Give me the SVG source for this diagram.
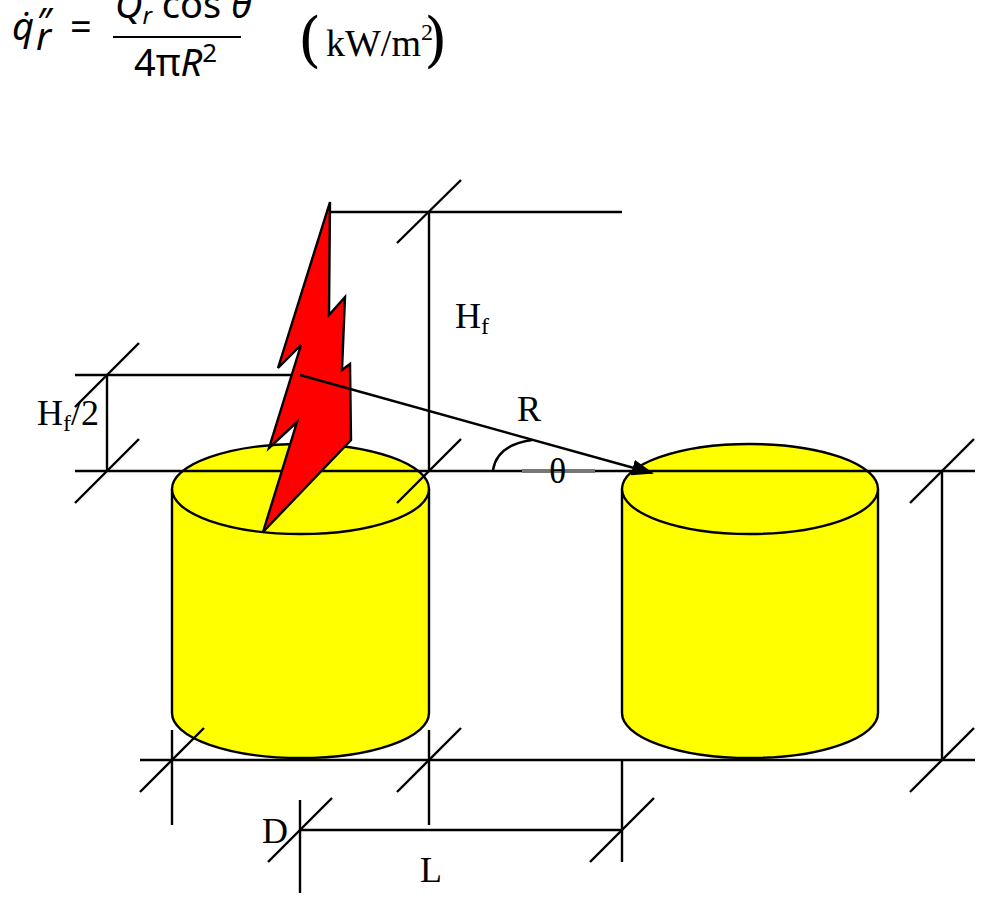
<svg xmlns="http://www.w3.org/2000/svg" width="1000" height="899" viewBox="0 0 1000 899">
<style>
.l{stroke:#000;stroke-width:2.4;fill:none}
.t{font-family:"Liberation Serif",serif;font-size:36px;fill:#000}
.m{font-family:"Noto Sans","DejaVu Sans",sans-serif;font-size:38px;fill:#000}
.cyl{fill:#ffff00;stroke:#000;stroke-width:2.4}
</style>
<defs><marker id="ah" markerWidth="22" markerHeight="16" refX="20" refY="8" orient="auto" markerUnits="userSpaceOnUse"><path d="M0,0 L22,8 L0,16 z" fill="#000"/></marker></defs>
<rect width="1000" height="899" fill="#fff"/>
<g id="formula">
<text class="m" x="12" y="40" font-style="italic">q̇</text>
<text class="m" x="36" y="35" font-size="26" font-style="italic">″</text>
<text class="m" x="36" y="50" font-size="24" font-style="italic">r</text>
<text class="m" x="70" y="40">=</text>
<text class="m" x="115" y="18"><tspan font-style="italic">Q</tspan><tspan font-size="24" font-style="italic" dy="6">r</tspan><tspan dy="-6"> cos </tspan><tspan font-style="italic">θ</tspan></text>
<line x1="113" y1="37" x2="241" y2="37" stroke="#000" stroke-width="2"/>
<text class="m" x="134" y="76">4π<tspan font-style="italic">R</tspan><tspan font-size="26" dy="-14">2</tspan></text>
<text x="298" y="60" font-family="'DejaVu Serif',serif" font-size="60">(</text>
<text x="326" y="56" font-family="'Liberation Serif',serif" font-size="38">kW/m<tspan font-size="24" dy="-16">2</tspan></text>
<text x="424" y="60" font-family="'DejaVu Serif',serif" font-size="60">)</text>
</g>
<g id="cylinder-left">
<path class="cyl" d="M172,489 V713 A128.5,45 0 0 0 429,713 V489"/>
<ellipse class="cyl" cx="300.5" cy="489" rx="128.5" ry="45"/>
</g>
<g id="cylinder-right">
<path class="cyl" d="M622,489 V713 A128,45 0 0 0 878,713 V489"/>
<ellipse class="cyl" cx="750" cy="489" rx="128" ry="45"/>
</g>
<g id="connectors">
<line class="l" x1="75" y1="471" x2="975" y2="471"/>
<line x1="522" y1="471" x2="595" y2="471" stroke="#777" stroke-width="4"/>
<line class="l" x1="75" y1="375" x2="300" y2="375"/>
<line class="l" x1="330" y1="212" x2="622" y2="212"/>
<line class="l" x1="429" y1="212" x2="429" y2="471"/>
<line class="l" x1="107" y1="375" x2="107" y2="471"/>
<line class="l" x1="140" y1="760" x2="975" y2="760"/>
<line class="l" x1="172" y1="730" x2="172" y2="825"/>
<line class="l" x1="429" y1="730" x2="429" y2="825"/>
<line class="l" x1="622" y1="760" x2="622" y2="862"/>
<line class="l" x1="300" y1="800" x2="300" y2="893"/>
<line class="l" x1="942" y1="471" x2="942" y2="760"/>
<line class="l" x1="300" y1="830" x2="622" y2="830"/>
<g class="l">
<line x1="397" y1="243" x2="461" y2="180"/>
<line x1="75" y1="407" x2="139" y2="343"/>
<line x1="75" y1="503" x2="139" y2="439"/>
<line x1="397" y1="503" x2="461" y2="439"/>
<line x1="140" y1="792" x2="204" y2="728"/>
<line x1="397" y1="792" x2="461" y2="728"/>
<line x1="910" y1="503" x2="974" y2="439"/>
<line x1="910" y1="792" x2="974" y2="728"/>
<line x1="268" y1="862" x2="332" y2="798"/>
<line x1="590" y1="862" x2="654" y2="798"/>
</g>
<path class="l" d="M493,470 Q497,445 532,440"/>
</g>
<g id="flame">
<polygon points="330,202 329,315 345,297 342,370 350,364 351,440 263,532 297,422 269,448 301,345 278,368" fill="#ff0000" stroke="#000" stroke-width="2.4" stroke-linejoin="miter"/>
</g>
<line id="R-line" class="l" x1="300" y1="375" x2="652" y2="473" marker-end="url(#ah)"/>
<g id="labels">
<text class="t" x="455" y="328">H<tspan font-size="24" dy="6">f</tspan></text>
<text class="t" x="37" y="425">H<tspan font-size="24" dy="6">f</tspan><tspan dy="-6">/2</tspan></text>
<text class="t" x="517" y="421">R</text>
<text class="t" x="549" y="483" font-size="30">θ</text>
<text class="t" x="262" y="843">D</text>
<text class="t" x="420" y="882">L</text>
</g>
</svg>
